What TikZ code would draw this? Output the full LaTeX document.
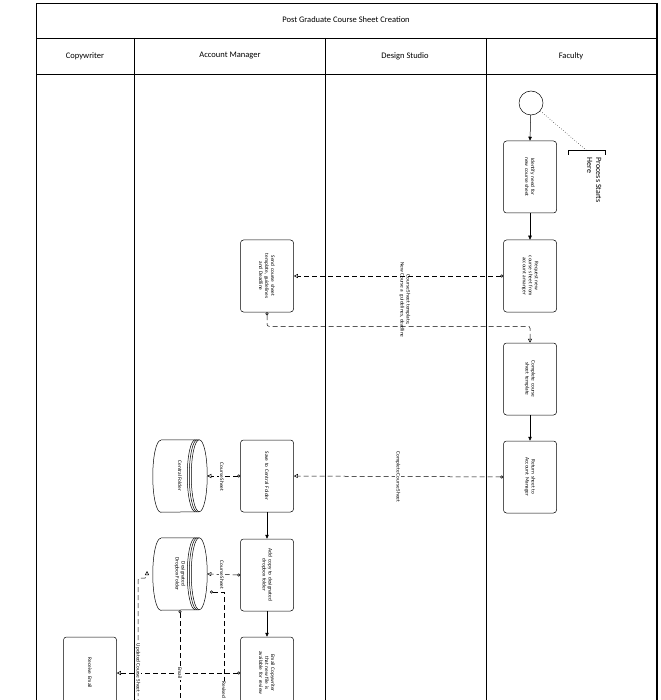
\documentclass[tikz,border=0pt]{standalone}
\usepackage{fontspec}
\setmainfont{Carlito}
\usepackage{tikz}
\usetikzlibrary{
	arrows.meta
}

\tikzset{
	task/.style={draw=black,rounded corners=3pt,rotate=-90,minimum width=72pt,
		minimum height=53pt,text width=56pt,align=center,
		font=\fontsize{5.3}{6}\selectfont,
		execute at begin node={\hyphenpenalty=10000\relax}},
	store/.style={minimum width=54pt,minimum height=72pt,inner sep=0pt},
	msg/.style={dashed,dash pattern=on 5pt off 3pt,
		{Circle[open,length=3pt]}-{Triangle[open,length=4pt,width=4pt]}},
	seq/.style={-{Triangle[fill=black,length=4pt,width=3.5pt]}},
	lbl/.style={rotate=-90,font=\fontsize{5.3}{6}\selectfont,fill=white,inner sep=1pt,align=center},
	head/.style={font=\fontsize{8.5}{9}\selectfont}
}
% data store drawn around a named node
\newcommand{\drumat}[1]{
	\draw ([xshift=8pt]#1.north west) -- ([xshift=-8pt]#1.north east)
		arc[start angle=90,end angle=-90,x radius=8pt,y radius=36pt]
		-- ([xshift=8pt]#1.south west)
		arc[start angle=270,end angle=90,x radius=8pt,y radius=36pt];
	\foreach \off in {0,2,4}
		\draw ([xshift=-8pt-\off pt]#1.north east)
			arc[start angle=90,end angle=270,x radius=8pt,y radius=36pt];
}

\begin{document}
\begin{tikzpicture}[x=1pt,y=-1pt,line width=0.5pt]
		\useasboundingbox (0,0) rectangle (660,700);
		% pool and lanes
		\draw (36,3) rectangle (657,720);
		\draw (36,38) -- (657,38);
		\draw (36,74) -- (657,74);
		\draw[line width=1pt] (134,38) -- (134,720);
		\draw (325,38) -- (325,720);
		\draw[line width=1pt] (486,38) -- (486,720);
		\draw[line width=1.2pt] (657,3) -- (657,720);
		\node[head] (title) at (346,20) {Post Graduate Course Sheet Creation};
		\node[head] (lcopy) at (85,56) {Copywriter};
		\node[head] (lacct) at (230,56) {Account Manager};
		\node[head] (ldesign) at (405,56) {Design Studio};
		\node[head] (lfac) at (571,56) {Faculty};

		% faculty
		\node[draw=black,circle,minimum size=24pt,inner sep=0pt] (start) at (531,103) {};
		\node[task] (identify) at (530,177) {Identify need for new course sheet};
		\node[task] (request) at (530,276) {Request new course sheet from account amanger};
		\node[task] (complete) at (530,379) {Complete course sheet template};
		\node[task] (return) at (530,477) {Return sheet to Account Manager};
		\coordinate (note) at (586,150);
		\draw (568,155) -- (568,150) -- (605,150) -- (605,155);
		\node[rotate=-90,font=\fontsize{8}{9}\selectfont,align=left,anchor=north west]
			(notetext) at (605,154) {Process Starts\\Here};
		\draw[dotted] (start) -- (note);

		% account manager
		\node[task] (send) at (267,276) {Send course sheet template, guidelines and Deadline};
		\node[task] (save) at (267,476) {Save to Central Folder};
		\node[task] (addcopy) at (267,575) {Add copy to designated dropbox folder};
		\node[task] (emailcw) at (267,673) {Email Copywriter that new file is available for review};
		\node[store] (central) at (180,476) {};
		\drumat{central}
		\node[lbl,fill=none] at (central.center) {Central Folder};
		\node[store] (dropbox) at (180,574) {};
		\drumat{dropbox}
		\node[lbl,fill=none] at (dropbox.center) {Designated\\Dropbox Folder};

		% copywriter
		\node[task] (receive) at (90,673) {Receive Email};

		% sequence flows
		\draw[seq] (start) -- (identify.west);
		\draw[seq] (identify.east) -- (request.west);
		\draw[seq] (complete.east) -- (return.west);
		\draw[seq] (save.east) -- (addcopy.west);
		\draw[seq] (addcopy.east) -- (emailcw.west);

		% message flows
		\draw[msg] (request.south) -- (send.north);
		\draw[msg,rounded corners=2pt] (send.east) -- ++(0,14) -| (complete.west);
		\node[lbl,fill=none] (tmpl) at (405,300) {Course Sheet template,\\New Course a\enspace guidelines, deadline};
		\draw[msg] (return.south) -- (save.north);
		\node[lbl] (csheet) at (398,477) {Complete Course Sheet};
		\draw[msg] (save.south) -- (central.east);
		\node[lbl] (csheet2) at (222,477) {Course Sheet};
		\draw[msg] (addcopy.south) -- (dropbox.east);
		\node[lbl] (csheet3) at (222,575) {Course Sheet};
		\draw[msg] (emailcw.south) -- (receive.north);
		\coordinate (revend) at (224,720);
		\draw[dashed,dash pattern=on 5pt off 3pt,{Circle[open,length=3pt]}-]
			(210,592) -- (224,592) -- (revend);
		\node[lbl] (revised) at (224,690) {Revised};
		\coordinate (mailend) at (180,720);
		\draw[dashed,dash pattern=on 5pt off 3pt,{Circle[open,length=3pt]}-] (dropbox.south) -- (mailend);
		\node[lbl] (mail) at (180,673) {Email};
		\coordinate (updend) at (138,720);
		\draw[dashed,dash pattern=on 5pt off 3pt,-{Triangle[open,length=4pt,width=4pt]},rounded corners=2pt]
			(updend) -- (138,578) -- (147,578) -- (147,571);
		\node[lbl] (updated) at (138,668) {Updated Course Sheet};
	\end{tikzpicture}
\end{document}
